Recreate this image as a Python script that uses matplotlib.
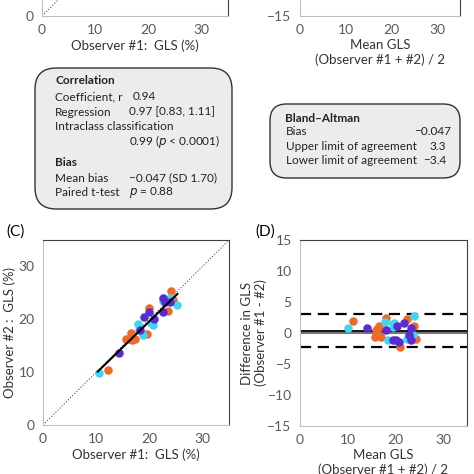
import matplotlib
matplotlib.use("Agg")
import matplotlib.pyplot as plt
from matplotlib.patches import FancyBboxPatch

plt.rcParams['font.family'] = ['Lato', 'DejaVu Sans']

# Panel C: observer 1 vs observer 2 GLS (%)
c_cyan_x = [10.6, 17.9, 18.9, 20.4, 20.7, 22.5, 25.3, 23.9, 18.1]
c_cyan_y = [9.8, 19.1, 17.0, 19.3, 19.0, 23.4, 22.7, 24.0, 18.0]
c_orange_x = [12.3, 15.6, 16.5, 16.7, 17.3, 19.5, 20.0, 24.1, 24.4, 23.6, 16.2]
c_orange_y = [10.4, 16.3, 17.5, 16.1, 16.2, 17.2, 22.1, 25.3, 23.7, 21.6, 16.2]
c_purple_x = [14.3, 18.2, 19.0, 19.9, 20.9, 22.6, 22.6, 22.9, 23.9]
c_purple_y = [13.6, 18.0, 20.4, 21.4, 20.1, 24.0, 21.4, 23.2, 23.2]
reg_x = [10.3, 25.3]
reg_y = [10.1, 24.8]

# Panel D: Bland-Altman
d_cyan_x = [10.0, 17.9, 18.4, 19.5, 19.8, 22.4, 23.8, 23.6, 19.5]
d_cyan_y = [0.8, 1.8, -1.2, 1.4, 1.6, -0.9, 2.7, -0.4, 1.0]
d_orange_x = [11.1, 15.7, 16.0, 16.6, 16.9, 18.1, 20.9, 22.4, 23.8, 24.3, 16.4]
d_orange_y = [2.0, -0.7, 0.5, 1.1, -0.7, 2.5, -2.2, 2.3, 1.1, -1.0, 0.8]
d_purple_x = [14.0, 18.1, 19.5, 20.3, 20.2, 20.7, 21.9, 22.9, 23.3, 23.3]
d_purple_y = [0.8, 0.5, -1.2, 1.1, -1.1, -1.5, 1.6, -0.4, 0.8, -1.2]
ba_lines = [0.0, 0.4]
ba_limits = [3.0, -2.3]

CYAN, ORANGE, PURPLE = '#3fd6f2', '#ee6a25', '#5a2bd0'
GREY = '#595959'

W = H = 474
fig = plt.figure(figsize=(4.74, 4.74), dpi=100)


def add_ax(x0, x1, ybot, ytop):
    return fig.add_axes([x0 / W, 1 - ybot / H, (x1 - x0) / W, (ybot - ytop) / H])


def style(ax):
    for s in ['top', 'right']:
        ax.spines[s].set_color('#404040')
    for s in ['left', 'bottom']:
        ax.spines[s].set_color('#bfbfbf')
    ax.tick_params(length=0, colors=GREY, labelsize=10, pad=6)


# top-left (A), only bottom visible
axA = add_ax(42, 228, 16, -169)
axA.set_xlim(0, 35); axA.set_ylim(0, 35)
axA.plot([0, 35], [0, 35], ':', color='#555555', lw=0.8)
axA.set_xticks([0, 10, 20, 30]); axA.set_yticks([0, 10, 20, 30])
axA.set_xlabel('Observer #1:  GLS (%)', fontsize=9.5, color='#333333', labelpad=2)
style(axA)

# top-right (B)
axB = add_ax(300, 460, 16, -170)
axB.set_xlim(0, 35); axB.set_ylim(-15, 15)
axB.set_xticks([0, 10, 20, 30]); axB.set_yticks([-15, -10, -5, 0, 5, 10, 15])
axB.set_xlabel('Mean GLS\n(Observer #1 + #2) / 2', fontsize=9.5, color='#333333', labelpad=2)
style(axB)

# text boxes
fig.patches.append(FancyBboxPatch((35 / W, 1 - 209 / H), 197 / W, 141 / H,
                                  boxstyle='round,pad=0,rounding_size=0.045',
                                  transform=fig.transFigure, fc='#ececec', ec='#333333', lw=1))
fig.patches.append(FancyBboxPatch((270 / W, 1 - 178 / H), 190 / W, 74 / H,
                                  boxstyle='round,pad=0,rounding_size=0.035',
                                  transform=fig.transFigure, fc='#ececec', ec='#333333', lw=1))
fs = 8.5
def t(x, y, s, **kw):
    fig.text(x / W, 1 - y / H, s, fontsize=fs, va='center', color='#222222', **kw)
t(55, 81, 'Correlation', weight='bold')
t(55, 97, 'Coefficient, r'); t(133, 97, '0.94')
t(55, 112, 'Regression'); t(129, 112, '0.97 [0.83, 1.11]')
t(55, 127, 'Intraclass classification')
t(129, 142, '0.99 ($p$ < 0.0001)')
t(55, 163, 'Bias', weight='bold')
t(55, 178, 'Mean bias'); t(129, 178, '\u22120.047 (SD 1.70)')
t(55, 193, 'Paired t-test'); t(129, 193, '$p$ = 0.88')
t(285, 118, 'Bland\u2013Altman', weight='bold')
t(286, 132, 'Bias'); t(451, 132, '\u22120.047', ha='right')
t(286, 147, 'Upper limit of agreement'); t(446, 147, '3.3', ha='right')
t(286, 161, 'Lower limit of agreement'); t(446, 161, '\u22123.4', ha='right')

fig.text(6 / W, 1 - 232 / H, '(C)', fontsize=11, va='center')
fig.text(255 / W, 1 - 232 / H, '(D)', fontsize=11, va='center')

# panel C
axC = add_ax(43, 229, 425, 240)
axC.set_xlim(0, 35); axC.set_ylim(0, 35)
axC.plot([0, 35], [0, 35], ':', color='#555555', lw=0.8)
ms = 26
axC.scatter(c_orange_x, c_orange_y, s=ms, c=ORANGE, zorder=3)
axC.scatter(c_cyan_x, c_cyan_y, s=ms, c=CYAN, zorder=3)
axC.scatter(c_purple_x, c_purple_y, s=ms, c=PURPLE, zorder=3)
axC.plot(reg_x, reg_y, color='black', lw=1.5, zorder=4)
axC.set_xticks([0, 10, 20, 30]); axC.set_yticks([0, 10, 20, 30])
axC.set_xlabel('Observer #1:  GLS (%)', fontsize=9.5, color='#333333', labelpad=2)
axC.set_ylabel('Observer #2 :  GLS (%)', fontsize=9.5, color='#333333', labelpad=2)
style(axC)

# panel D
axD = add_ax(300, 467, 426, 240)
axD.set_xlim(0, 35); axD.set_ylim(-15, 15)
axD.scatter(d_orange_x, d_orange_y, s=ms, c=ORANGE, zorder=3)
axD.scatter(d_cyan_x, d_cyan_y, s=ms, c=CYAN, zorder=3)
axD.scatter(d_purple_x, d_purple_y, s=ms, c=PURPLE, zorder=3)
axD.axhline(ba_lines[0], color='#777777', lw=1.5, zorder=2)
axD.axhline(ba_lines[1], color='black', lw=1.3, zorder=2)
for v in ba_limits:
    axD.axhline(v, color='black', lw=1.6, ls=(0, (5, 3)), zorder=2)
axD.set_xticks([0, 10, 20, 30]); axD.set_yticks([-15, -10, -5, 0, 5, 10, 15])
axD.set_xlabel('Mean GLS\n(Observer #1 + #2) / 2', fontsize=9.5, color='#333333', labelpad=2)
axD.set_ylabel('Difference in GLS\n(Observer #1 - #2)', fontsize=9.5, color='#333333', labelpad=0)
style(axD)

fig.savefig('out.png', dpi=100)
